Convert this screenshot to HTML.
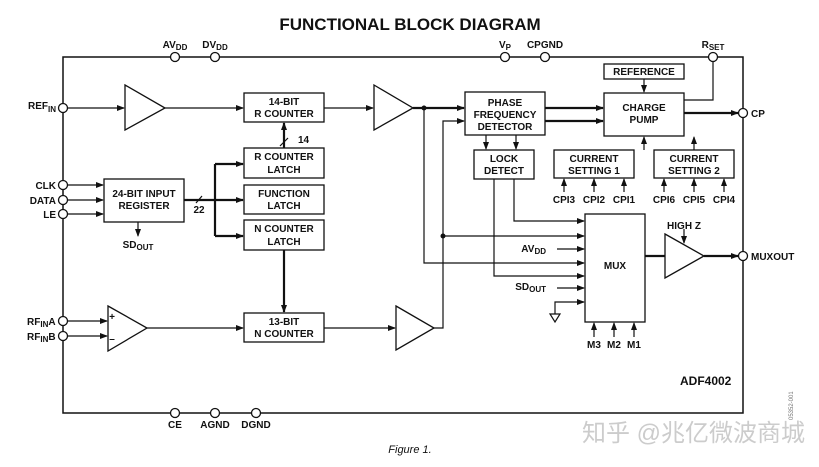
<!DOCTYPE html>
<html><head><meta charset="utf-8"><style>
html,body{margin:0;padding:0;background:#fff;width:819px;height:467px;overflow:hidden}
svg{display:block}
text{font-family:"Liberation Sans",Arial,sans-serif;font-weight:bold;font-size:10px;fill:#111}
</style></head><body>
<svg width="819" height="467" viewBox="0 0 819 467">
<defs>
<marker id="a" markerWidth="8" markerHeight="6" refX="7" refY="3" orient="auto" markerUnits="userSpaceOnUse"><path d="M0,0 L8,3 L0,6 Z" fill="#111"/></marker>
</defs>
<text x="410" y="30" text-anchor="middle" style="font-size:17px">FUNCTIONAL BLOCK DIAGRAM</text>
<g stroke="#111" stroke-width="1.5" fill="none">
<rect x="63" y="57" width="680" height="356"/>
</g>
<!-- pins -->
<g stroke="#111" stroke-width="1.3" fill="#fff">
<circle cx="175" cy="57" r="4.5"/><circle cx="215" cy="57" r="4.5"/>
<circle cx="505" cy="57" r="4.5"/><circle cx="545" cy="57" r="4.5"/><circle cx="713" cy="57" r="4.5"/>
<circle cx="63" cy="108" r="4.5"/><circle cx="63" cy="185" r="4.5"/><circle cx="63" cy="200" r="4.5"/><circle cx="63" cy="214" r="4.5"/>
<circle cx="63" cy="321" r="4.5"/><circle cx="63" cy="336" r="4.5"/>
<circle cx="743" cy="113" r="4.5"/><circle cx="743" cy="256" r="4.5"/>
<circle cx="175" cy="413" r="4.5"/><circle cx="215" cy="413" r="4.5"/><circle cx="256" cy="413" r="4.5"/>
</g>
<g>
<text x="175" y="48" text-anchor="middle">AV<tspan font-size="8" dy="2">DD</tspan></text>
<text x="215" y="48" text-anchor="middle">DV<tspan font-size="8" dy="2">DD</tspan></text>
<text x="505" y="48" text-anchor="middle">V<tspan font-size="8" dy="2">P</tspan></text>
<text x="545" y="48" text-anchor="middle">CPGND</text>
<text x="713" y="48" text-anchor="middle">R<tspan font-size="8" dy="2">SET</tspan></text>
<text x="56" y="109" text-anchor="end">REF<tspan font-size="8" dy="3">IN</tspan></text>
<text x="56" y="189" text-anchor="end">CLK</text>
<text x="56" y="204" text-anchor="end">DATA</text>
<text x="56" y="218" text-anchor="end">LE</text>
<text x="27" y="325">RF<tspan font-size="8" dy="2">IN</tspan><tspan dy="-2">A</tspan></text>
<text x="27" y="340">RF<tspan font-size="8" dy="2">IN</tspan><tspan dy="-2">B</tspan></text>
<text x="751" y="117">CP</text>
<text x="751" y="260">MUXOUT</text>
<text x="175" y="428" text-anchor="middle">CE</text>
<text x="215" y="428" text-anchor="middle">AGND</text>
<text x="256" y="428" text-anchor="middle">DGND</text>
</g>
<!-- boxes -->
<g stroke="#111" stroke-width="1.3" fill="#fff">
<rect x="244" y="93" width="80" height="29"/>
<rect x="244" y="148" width="80" height="30"/>
<rect x="244" y="185" width="80" height="29"/>
<rect x="244" y="220" width="80" height="30"/>
<rect x="104" y="179" width="80" height="43"/>
<rect x="244" y="313" width="80" height="29"/>
<rect x="465" y="92" width="80" height="43"/>
<rect x="474" y="150" width="60" height="29"/>
<rect x="604" y="64" width="80" height="15"/>
<rect x="604" y="93" width="80" height="43"/>
<rect x="554" y="150" width="80" height="28"/>
<rect x="654" y="150" width="80" height="28"/>
<rect x="585" y="214" width="60" height="108"/>
<path d="M125,85 L165,108 L125,130 Z"/>
<path d="M374,85 L413,108 L374,130 Z"/>
<path d="M108,306 L147,328 L108,351 Z"/>
<path d="M396,306 L434,328 L396,350 Z"/>
<path d="M665,234 L704,256 L665,278 Z"/>
</g>
<g text-anchor="middle">
<text x="284" y="105">14-BIT</text><text x="284" y="117">R COUNTER</text>
<text x="284" y="160">R COUNTER</text><text x="284" y="173">LATCH</text>
<text x="284" y="197">FUNCTION</text><text x="284" y="209">LATCH</text>
<text x="284" y="232">N COUNTER</text><text x="284" y="245">LATCH</text>
<text x="144" y="197">24-BIT INPUT</text><text x="144" y="209">REGISTER</text>
<text x="284" y="325">13-BIT</text><text x="284" y="337">N COUNTER</text>
<text x="505" y="106">PHASE</text><text x="505" y="118">FREQUENCY</text><text x="505" y="130">DETECTOR</text>
<text x="504" y="162">LOCK</text><text x="504" y="174">DETECT</text>
<text x="644" y="75">REFERENCE</text>
<text x="644" y="111">CHARGE</text><text x="644" y="123">PUMP</text>
<text x="594" y="162">CURRENT</text><text x="594" y="174">SETTING 1</text>
<text x="694" y="162">CURRENT</text><text x="694" y="174">SETTING 2</text>
<text x="615" y="269">MUX</text>
<text x="564" y="203">CPI3</text><text x="594" y="203">CPI2</text><text x="624" y="203">CPI1</text>
<text x="664" y="203">CPI6</text><text x="694" y="203">CPI5</text><text x="724" y="203">CPI4</text>
<text x="594" y="348">M3</text><text x="614" y="348">M2</text><text x="634" y="348">M1</text>
<text x="684" y="229">HIGH Z</text>
<text x="138" y="248">SD<tspan font-size="8" dy="2">OUT</tspan></text>
<text x="298" y="143" text-anchor="start">14</text>
<text x="199" y="213">22</text>
<text x="112" y="320" font-size="8">+</text><text x="112" y="342" font-size="9">–</text>
</g>
<text x="546" y="252" text-anchor="end">AV<tspan font-size="8" dy="2">DD</tspan></text>
<text x="546" y="290" text-anchor="end">SD<tspan font-size="8" dy="2">OUT</tspan></text>
<text x="680" y="385" style="font-size:12px">ADF4002</text>
<!-- thin wires -->
<g stroke="#111" stroke-width="1.2" fill="none">
<path d="M68,108 H124" marker-end="url(#a)"/>
<path d="M165,108 H243" marker-end="url(#a)"/>
<path d="M324,108 H373" marker-end="url(#a)"/>
<path d="M68,185 H103" marker-end="url(#a)"/>
<path d="M68,200 H103" marker-end="url(#a)"/>
<path d="M68,214 H103" marker-end="url(#a)"/>
<path d="M138,222 V236" marker-end="url(#a)"/>
<path d="M68,321 H107" marker-end="url(#a)"/>
<path d="M68,336 H107" marker-end="url(#a)"/>
<path d="M147,328 H243" marker-end="url(#a)"/>
<path d="M324,328 H395" marker-end="url(#a)"/>
<path d="M434,328 H443 V121 H464" marker-end="url(#a)"/>
<path d="M424,108 V263 H584" marker-end="url(#a)"/>
<path d="M443,236 H584" marker-end="url(#a)"/>
<path d="M514,179 V221 H584" marker-end="url(#a)"/>
<path d="M494,179 V276 H584" marker-end="url(#a)"/>
<path d="M557,249 H584" marker-end="url(#a)"/>
<path d="M557,288 H584" marker-end="url(#a)"/>
<path d="M555,314 V302 H584" marker-end="url(#a)"/>
<path d="M550,314 H560 L555,322 Z"/>
<path d="M684,100 H713 V62"/>
<path d="M644,79 V92" marker-end="url(#a)"/>
<path d="M486,135 V149" marker-end="url(#a)"/>
<path d="M516,135 V149" marker-end="url(#a)"/>
<path d="M644,150 V137" marker-end="url(#a)"/>
<path d="M694,150 V137" marker-end="url(#a)"/>
<path d="M564,192 V179" marker-end="url(#a)"/><path d="M594,192 V179" marker-end="url(#a)"/><path d="M624,192 V179" marker-end="url(#a)"/>
<path d="M664,192 V179" marker-end="url(#a)"/><path d="M694,192 V179" marker-end="url(#a)"/><path d="M724,192 V179" marker-end="url(#a)"/>
<path d="M594,337 V323" marker-end="url(#a)"/><path d="M614,337 V323" marker-end="url(#a)"/><path d="M634,337 V323" marker-end="url(#a)"/>
<path d="M684,229 V243" marker-end="url(#a)"/>
<path d="M280,146 L288,138"/>
<path d="M196,203 L202,196"/>
</g>
<!-- thick wires -->
<g stroke="#111" stroke-width="2.2" fill="none">
<path d="M413,108 H464" marker-end="url(#a)"/>
<path d="M545,108 H603" marker-end="url(#a)"/>
<path d="M545,121 H603" marker-end="url(#a)"/>
<path d="M684,113 H738" marker-end="url(#a)"/>
<path d="M645,256 H665"/>
<path d="M704,256 H738" marker-end="url(#a)"/>
<path d="M284,148 V123" marker-end="url(#a)"/>
<path d="M184,200 H243" marker-end="url(#a)"/>
<path d="M215,164 V236"/>
<path d="M215,164 H243" marker-end="url(#a)"/>
<path d="M215,236 H243" marker-end="url(#a)"/>
<path d="M284,250 V312" marker-end="url(#a)"/>
</g>
<circle cx="424" cy="108" r="2.5" fill="#111"/>
<circle cx="443" cy="236" r="2.5" fill="#111"/>
<text x="410" y="453" text-anchor="middle" style="font-weight:normal;font-style:italic;font-size:11px">Figure 1.</text>
<text x="582" y="441" style="font-family:'Liberation Sans','Noto Sans CJK SC',sans-serif;font-weight:normal;font-size:24px;fill:#ccc">知乎 @兆亿微波商城</text>
<text transform="translate(793,420) rotate(-90)" style="font-weight:normal;font-size:6px;fill:#777">05352-001</text>
</svg>
</body></html>
